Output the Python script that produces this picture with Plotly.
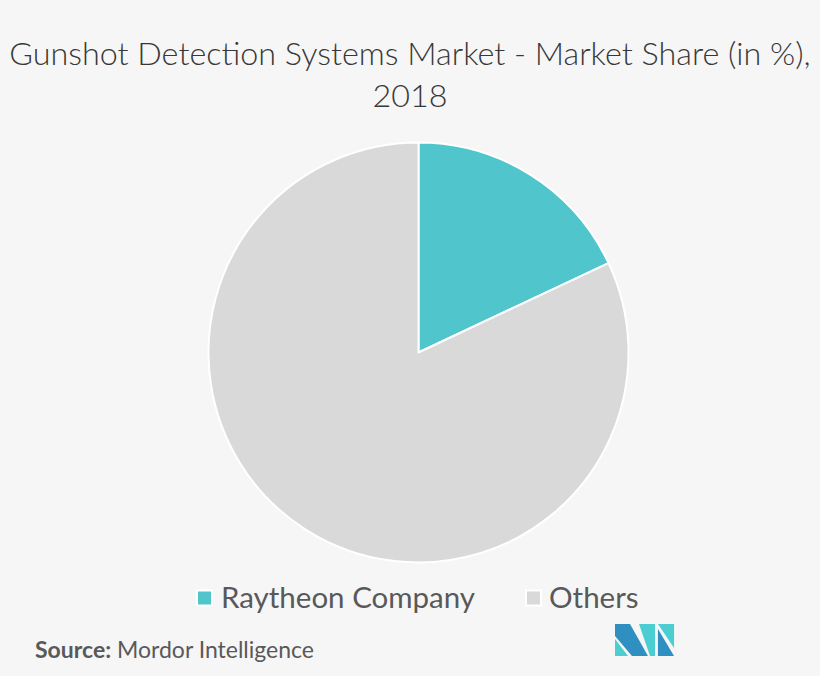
"""Gunshot Detection Systems Market - market share pie, 2018."""
import plotly.graph_objects as go

W, H = 820, 676

companies = ["Raytheon Company", "Others"]
shares = [18, 82]
colors = ["#50c5cc", "#d9d9d9"]

TITLE = "Gunshot Detection Systems Market - Market Share (in %),<br>2018"
SOURCE = "<b>Source:</b> Mordor Intelligence"

# logo polygons, pixels from the top left corner of the image
LOGO = [
    ("#2e8fc0", [(615, 624), (630, 624), (648, 656), (632, 656), (615, 636)]),
    ("#4bcdd2", [(615, 639), (628, 656), (615, 656)]),
    ("#4bcdd2", [(639, 624), (655, 624), (655, 656), (650, 656)]),
    ("#4bcdd2", [(658, 624), (674, 624), (674, 648)]),
    ("#2e8fc0", [(658, 629), (674, 656), (658, 656)]),
]

# left edge of each legend swatch and of its label, pixels
LEGEND_SWATCH_X = [197, 526]
LEGEND_TEXT_X = [219, 547]
LEGEND_Y = 598
SWATCH = 15


def px(x):
    return x / W


def py(y):
    return 1 - y / H


def logo_path(pts):
    coords = [f"{px(x):.4f},{py(y):.4f}" for x, y in pts]
    return "M" + "L".join(coords) + "Z"


fig = go.Figure(go.Pie(
    labels=companies,
    values=shares,
    sort=False,
    direction="clockwise",
    rotation=0,
    textinfo="none",
    hoverinfo="label+percent",
    showlegend=False,
    marker=dict(colors=colors, line=dict(color="white", width=2)),
    domain=dict(x=[px(208.5), px(628.5)], y=[py(562.5), py(142.5)]),
))

for color, pts in LOGO:
    fig.add_shape(type="path", xref="paper", yref="paper", path=logo_path(pts),
                  fillcolor=color, line_width=0)

# legend by hand: plotly's pie swatches are a fixed 12px and entrywidth pushes the margins
for name, color, sx, tx in zip(companies, colors, LEGEND_SWATCH_X, LEGEND_TEXT_X):
    fig.add_shape(type="rect", xref="paper", yref="paper",
                  x0=px(sx), x1=px(sx + SWATCH),
                  y0=py(LEGEND_Y + SWATCH / 2), y1=py(LEGEND_Y - SWATCH / 2),
                  fillcolor=color, line=dict(color="white", width=2))
    fig.add_annotation(text=name, x=px(tx), y=py(LEGEND_Y - 2), xref="paper", yref="paper",
                       xanchor="left", yanchor="middle", showarrow=False,
                       font=dict(family="Lato", size=29.5, color="#595959"))

fig.add_annotation(text=SOURCE, x=px(33), y=py(649), xref="paper", yref="paper",
                   xanchor="left", yanchor="middle", showarrow=False,
                   font=dict(family="Lato", size=23, color="#595959"))

fig.update_layout(
    width=W,
    height=H,
    autosize=False,
    title=dict(text=TITLE, x=0.5, xanchor="center", y=py(65), yanchor="middle",
               font=dict(family="Lato Light, Lato", size=32.3, color="#383838")),
    margin=dict(l=0, r=0, t=0, b=0),
    paper_bgcolor="#f6f6f6",
)

# the browser's default body margin would leave a white frame round the chart
fig.write_html("out.html", config=dict(displayModeBar=False),
               post_script="document.body.style.margin='0';document.body.style.background='#f6f6f6';")
